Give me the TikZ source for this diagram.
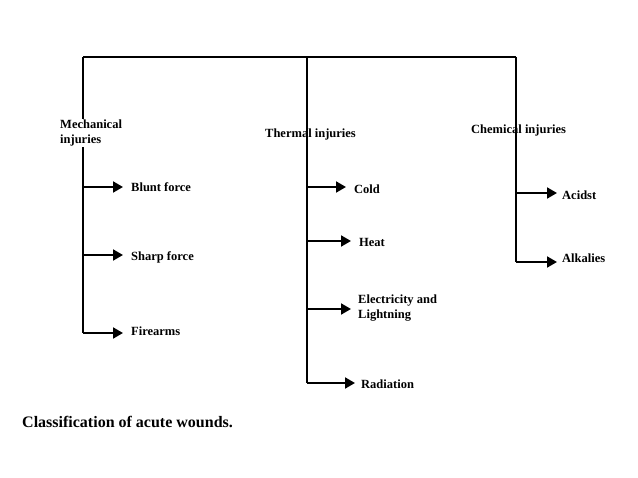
\documentclass[tikz,border=0pt]{standalone}
\usepackage{fontspec}
\setmainfont{Liberation Serif}
\usetikzlibrary{arrows.meta}
\begin{document}
\begin{tikzpicture}[x=1pt,y=-1pt,
  ln/.style={line width=2pt},
  ar/.style={line width=2pt,-{Triangle[length=10pt,width=11pt]}},
  lb/.style={font=\bfseries\fontsize{12.5}{15}\selectfont,anchor=west,inner sep=0pt,align=left}]
\useasboundingbox (0,0) rectangle (638,478);
\fill[white] (0,0) rectangle (638,478);
\coordinate (L0) at (83,57); \coordinate (M0) at (307,57); \coordinate (R0) at (516,57);
\coordinate (L1) at (83,333); \coordinate (M1) at (307,383); \coordinate (R1) at (516,262);
\draw[ln] (83,57) -- (R0);
\draw[ln] (L0) -- (L1); \draw[ln] (M0) -- (M1); \draw[ln] (R0) -- (R1);
\node[lb,fill=white,inner sep=1pt] (mech) at (59,133) {Mechanical\\injuries};
\node[lb] (therm) at (265,134) {Thermal injuries};
\node[lb] (chem) at (471,130) {Chemical injuries};
% left
\node[lb] (a1) at (131,187) {Blunt force};
\node[lb] (a2) at (131,257) {Sharp force};
\node[lb] (a3) at (131,331) {Firearms};
\coordinate (la1) at (83,187); \coordinate (la2) at (83,255); \coordinate (la3) at (83,333);
\draw[ar] (la1) -- (123,187); \draw[ar] (la2) -- (123,255);
\draw[ar] (la3) -- (123,333);
% middle
\node[lb] (b1) at (354,189) {Cold};
\node[lb] (b2) at (359,242) {Heat};
\node[lb] (b3) at (358,308) {Electricity and\\Lightning};
\node[lb] (b4) at (361,384) {Radiation};
\coordinate (mb1) at (307,187); \coordinate (mb2) at (307,241);
\coordinate (mb3) at (307,309); \coordinate (mb4) at (307,383);
\draw[ar] (mb1) -- (346,187); \draw[ar] (mb2) -- (351,241);
\draw[ar] (mb3) -- (351,309); \draw[ar] (mb4) -- (355,383);
% right
\node[lb] (c1) at (562,195) {Acidst};
\node[lb] (c2) at (562,258) {Alkalies};
\coordinate (rc1) at (516,193); \coordinate (rc2) at (516,262);
\draw[ar] (rc1) -- (557,193); \draw[ar] (rc2) -- (557,262);
\node[anchor=west,inner sep=0pt,font=\fontsize{16}{18}\selectfont\bfseries] (cap) at (22,422) {Classification of acute wounds.};
\end{tikzpicture}
\end{document}
